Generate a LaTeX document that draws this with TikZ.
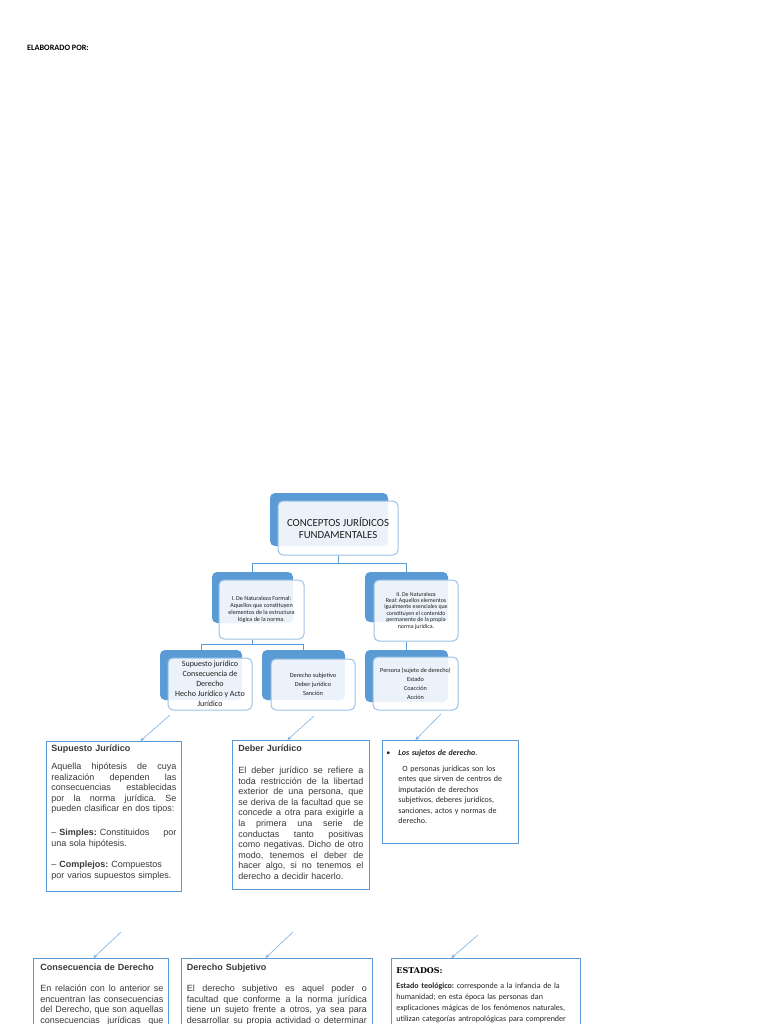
\documentclass[tikz,border=0pt]{standalone}
\usepackage{fontspec}
\setmainfont{Liberation Sans}
\newfontfamily\calfont{Carlito}
\newfontfamily\headfont{DejaVu Serif}
\usetikzlibrary{arrows.meta}
\definecolor{shadeblue}{HTML}{5B9BD5}
\definecolor{edgeblue}{HTML}{9DC3E6}
\definecolor{arrowblue}{HTML}{7FB0E0}
\definecolor{bodygray}{HTML}{3A3A3A}
\def\jlwidth{125pt}
\def\jlw#1 #2\jlstop{#1\if\relax\detokenize{#2}\relax\else\hfill\jlw#2\jlstop\fi}
\newcommand{\jl}[1]{\noindent\hbox to \jlwidth{\jlw#1 \jlstop}\\}
\frenchspacing

\begin{document}
\begin{tikzpicture}[x=1pt, y=-1pt,
  back/.style={fill=shadeblue, rounded corners=5pt, inner sep=0pt},
  front/.style={draw=edgeblue, line width=1pt, fill=white, fill opacity=0.88, text opacity=1,
    rounded corners=5pt, align=center, inner sep=1pt, text=black!88},
  tree/.style={draw=shadeblue, line width=0.8pt},
  textbox/.style={draw=shadeblue, line width=0.8pt, anchor=north west, inner ysep=4pt,
    align=left, text=bodygray, font=\fontsize{9}{10.6}\selectfont},
  pointer/.style={draw=arrowblue, line width=0.6pt, -{Stealth[length=4pt,width=3.5pt]}}]
  \filldraw[fill=white, draw=none] (0,0) rectangle (768,1024);
  \clip (0,0) rectangle (768,1024);
  \node[anchor=west, inner sep=0pt, font=\calfont\bfseries\fontsize{8.2}{9}\selectfont] (autor) at (27,48) {ELABORADO POR:};

  \node[back, minimum width=118pt, minimum height=53pt] (sh1) at (329,519.5) {};
  \node[front, minimum width=120pt, minimum height=54pt, font=\calfont\fontsize{10.8}{12}\selectfont] (fr1) at (338,528) {CONCEPTOS JURÍDICOS\\FUNDAMENTALES};
  \node[back, minimum width=81pt, minimum height=51pt] (sh2l) at (252.5,597.5) {};
  \node[front, minimum width=85pt, minimum height=59pt, font=\calfont\fontsize{6.1}{7}\selectfont] (fr2l) at (261.5,609.5) {I. De Naturaleza Formal:\\Aquellos que constituyen\\elementos de la estructura\\lógica de la norma.};
  \node[back, minimum width=83pt, minimum height=50pt] (sh2r) at (406.5,597) {};
  \node[front, minimum width=84pt, minimum height=61pt, font=\calfont\fontsize{5.9}{6.4}\selectfont] (fr2r) at (416,610.5) {II. De Naturaleza\\Real: Aquellos elementos\\igualmente esenciales que\\constituyen el contenido\\permanente de la propia\\norma jurídica.};
  \node[back, minimum width=82pt, minimum height=50pt] (sh3l) at (201,675) {};
  \node[front, minimum width=84pt, minimum height=52pt, font=\calfont\fontsize{8}{10}\selectfont] (fr3l) at (210,684) {Supuesto jurídico\\Consecuencia de\\Derecho\\Hecho Jurídico y Acto\\Jurídico};
  \node[back, minimum width=83pt, minimum height=50pt] (sh3m) at (303.5,675) {};
  \node[front, minimum width=84pt, minimum height=51pt, font=\calfont\fontsize{6.3}{9}\selectfont] (fr3m) at (313,684.5) {Derecho subjetivo\\Deber jurídico\\Sanción};
  \node[back, minimum width=83pt, minimum height=52pt] (sh3r) at (406.5,676) {};
  \node[front, minimum width=85pt, minimum height=53pt, font=\calfont\fontsize{6.2}{9}\selectfont] (fr3r) at (415.5,683.5) {Persona (sujeto de derecho)\\Estado\\Coacción\\Acción};

  \draw[tree] (fr1.south) -- ++(0,8) coordinate (j1);
  \draw[tree] (sh2l.north) |- (j1) -| (sh2r.north);
  \draw[tree] (sh2l.south |- fr2l.south) -- ++(0,5) coordinate (j2);
  \draw[tree] (sh3l.north) |- (j2) -| (sh3m.north);
  \draw[tree] (sh2r.south |- fr2r.south) -- (sh3r.north);

  \node[textbox, text width=125pt, inner xsep=5pt, text height=6.5pt, text depth=135.5pt] (supuesto) at (46,741) {%
    \textbf{Supuesto Jurídico}\\[6.9pt]
    \jl{Aquella hipótesis de cuya}
    \jl{realización dependen las}
    \jl{consecuencias establecidas}
    \jl{por la norma jurídica. Se}
    pueden clasificar en dos tipos:\\[13pt]
    \jl{–~\textbf{Simples:}~Constituidos por}
    una sola hipótesis.\\[11pt]
    – \textbf{Complejos:} Compuestos\\
    por varios supuestos simples.};
  \node[textbox, text width=125pt, inner xsep=6pt, text height=7pt, text depth=134pt] (deber) at (232,740) {%
    \textbf{Deber Jurídico}\\[11.4pt]
    \jl{El deber jurídico se refiere a}
    \jl{toda restricción de la libertad}
    \jl{exterior de una persona, que}
    \jl{se deriva de la facultad que se}
    \jl{concede a otra para exigirle a}
    \jl{la primera una serie de}
    \jl{conductas tanto positivas}
    \jl{como negativas. Dicho de otro}
    \jl{modo, tenemos el deber de}
    \jl{hacer algo, si no tenemos el}
    derecho a decidir hacerlo.};
  \node[textbox, font=\calfont\fontsize{8}{10.4}\selectfont, text=black!85, text width=128pt, inner xsep=4pt, text height=11pt, text depth=84pt] (sujetos) at (382,740) {%
    \makebox[12pt][l]{•}\textbf{\textit{Los sujetos de derecho}}.\\[5.6pt]
    \hspace*{16pt}O personas jurídicas son los\\
    \hspace*{12pt}entes que sirven de centros de\\
    \hspace*{12pt}imputación de derechos\\
    \hspace*{12pt}subjetivos, deberes jurídicos,\\
    \hspace*{12pt}sanciones, actos y normas de\\
    \hspace*{12pt}derecho.};
  \node[textbox, text width=125pt, inner xsep=5pt, text height=8pt, text depth=150pt] (consecuencia) at (33,958) {%
    \def\jlwidth{125pt}%
    \hspace*{2pt}\textbf{Consecuencia de Derecho}\\[10.4pt]
    \jl{\hspace*{2pt}En relación con lo anterior se}
    \jl{\hspace*{2pt}encuentran las consecuencias}
    \jl{\hspace*{2pt}del Derecho, que son aquellas}
    \jl{\hspace*{2pt}consecuencias jurídicas que}};
  \node[textbox, text width=180pt, inner xsep=5.5pt, text height=8pt, text depth=150pt] (subjetivo) at (181,958) {%
    \def\jlwidth{180pt}%
    \textbf{Derecho Subjetivo}\\[10.4pt]
    \jl{El derecho subjetivo es aquel poder o}
    \jl{facultad que conforme a la norma jurídica}
    \jl{tiene un sujeto frente a otros, ya sea para}
    \jl{desarrollar su propia actividad o determinar}};
  \node[textbox, font=\calfont\fontsize{8}{10.8}\selectfont, text=black!85, text width=179pt, inner xsep=5pt, text height=11pt, text depth=150pt] (estados) at (391,958) {%
    {\headfont\bfseries\fontsize{8}{11}\selectfont\color{black} ESTADOS:}\\[4.5pt]
    \textbf{Estado teológico:} corresponde a la infancia de la\\
    humanidad; en esta época las personas dan\\
    explicaciones mágicas de los fenómenos naturales,\\
    utilizan categorías antropológicas para comprender};

  \coordinate (s1) at (170,715);
  \coordinate (s2) at (314,716);
  \coordinate (s3) at (441,714);
  \coordinate (s4) at (121,932);
  \coordinate (s5) at (293,932);
  \coordinate (s6) at (478,935);
  \draw[pointer] (s1) -- ([xshift=26.5pt]supuesto.north);
  \draw[pointer] (s2) -- ([xshift=-13.5pt]deber.north);
  \draw[pointer] (s3) -- ([xshift=-35pt]sujetos.north);
  \draw[pointer] (s4) -- ([xshift=-7.5pt]consecuencia.north);
  \draw[pointer] (s5) -- ([xshift=-11.5pt]subjetivo.north);
  \draw[pointer] (s6) -- ([xshift=-34.5pt]estados.north);
\end{tikzpicture}
\end{document}
